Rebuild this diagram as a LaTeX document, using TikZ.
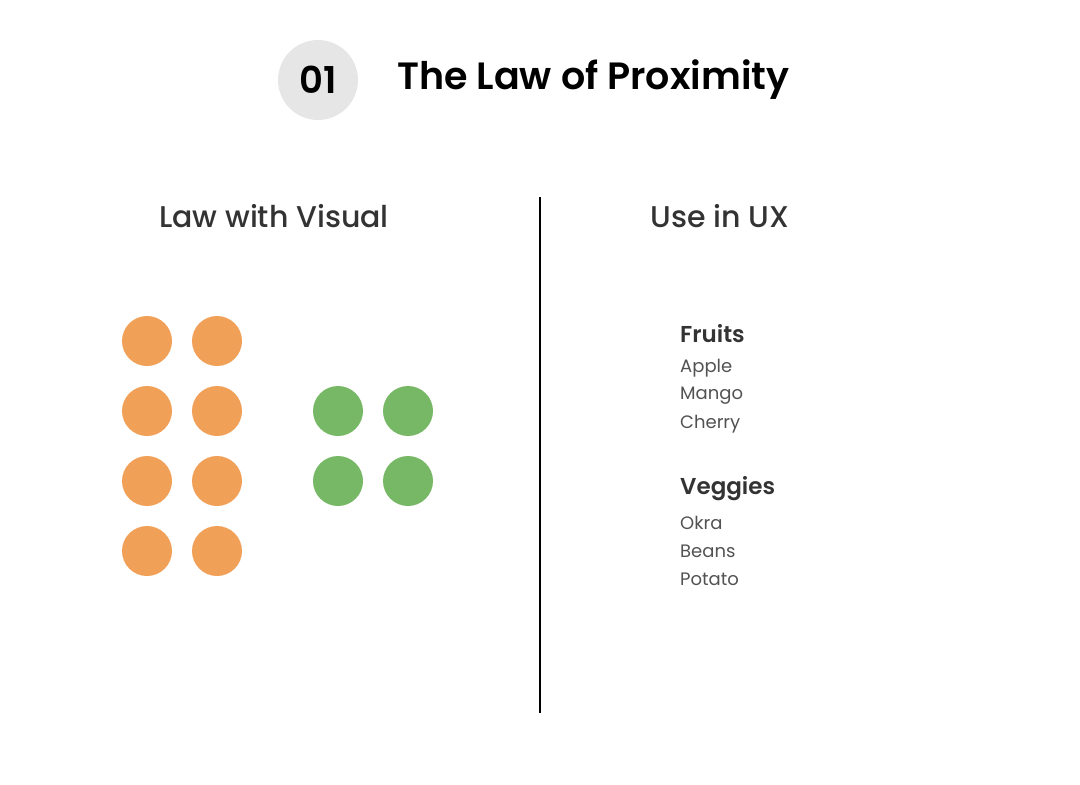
\documentclass[tikz,border=0pt]{standalone}
\usepackage{fontspec}
\setmainfont{Poppins}
\newfontfamily\popsemi{Poppins SemiBold}
\newfontfamily\popmed{Poppins Medium}
\newfontfamily\popbold{Poppins Bold}
\definecolor{org}{HTML}{F0A057}
\definecolor{grn}{HTML}{76B865}
\definecolor{txt}{HTML}{333333}
\definecolor{badge}{HTML}{E6E6E6}
\begin{document}
\begin{tikzpicture}[x=1pt,y=-1pt,
  dot/.style={circle,minimum size=50pt,inner sep=0pt},
  od/.style={dot,fill=org}, gd/.style={dot,fill=grn},
  head/.style={text=txt,font=\popmed\fontsize{30}{36}\selectfont,inner sep=0pt},
  grp/.style={text=txt,font=\popsemi\fontsize{23}{28}\selectfont,anchor=west,inner sep=0pt},
  item/.style={text=txt!85,font=\fontsize{18}{22}\selectfont,anchor=west,inner sep=0pt}]
\useasboundingbox (0,0) rectangle (1080,785);
\node[circle,fill=badge,minimum size=80pt,inner sep=0pt] (b) at (318,80) {};
\node[font=\popsemi\fontsize{37}{44}\selectfont] (n) at (318,80) {01};
\node[anchor=west,inner sep=0pt,font=\popsemi\fontsize{38}{46}\selectfont] (t) at (397,80) {The Law of Proximity};
\node[head] (h1) at (274,216) {Law with Visual};
\node[head] (h2) at (720,216) {Use in UX};
\coordinate (l1) at (540,197); \coordinate (l2) at (540,713);
\draw[line width=1.2pt] (l1) -- (l2);
\foreach \x/\c in {147/a,217/b}{\foreach \y/\r in {341/1,411/2,481/3,551/4}{\node[od] (o\c\r) at (\x,\y) {};}}
\foreach \x/\c in {338/a,408/b}{\foreach \y/\r in {411/1,481/2}{\node[gd] (g\c\r) at (\x,\y) {};}}
\node[grp] (f) at (680,334) {Fruits};
\node[item] (i1) at (680,368) {Apple};
\node[item] (i2) at (680,396) {Mango};
\node[item] (i3) at (680,424) {Cherry};
\node[grp] (v) at (680,489) {Veggies};
\node[item] (i4) at (680,523) {Okra};
\node[item] (i5) at (680,551) {Beans};
\node[item] (i6) at (680,579) {Potato};
\end{tikzpicture}
\end{document}
